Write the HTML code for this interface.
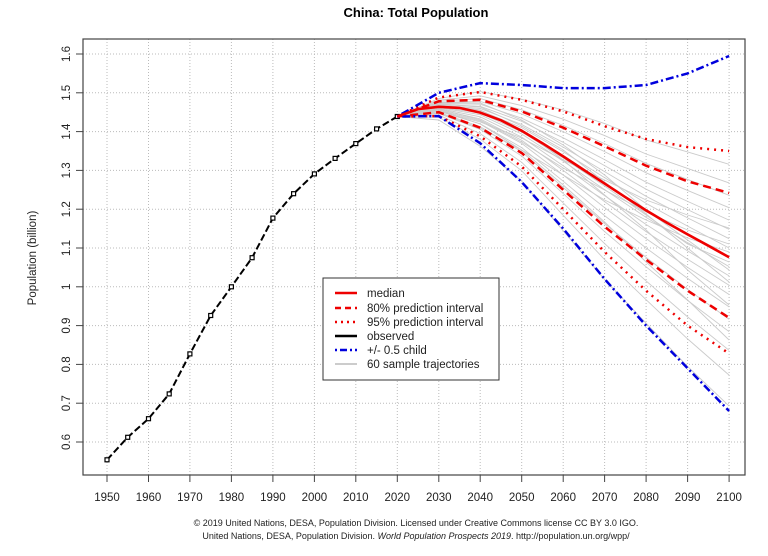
<!DOCTYPE html>
<html><head><meta charset="utf-8"><style>
body{margin:0;background:#fff;}
svg{display:block;font-family:"Liberation Sans",Arial,sans-serif;}
</style></head><body>
<svg width="768" height="556" xmlns="http://www.w3.org/2000/svg">
<text x="416" y="17" text-anchor="middle" font-size="13" font-weight="bold">China: Total Population</text>
<g stroke="#bbb" stroke-dasharray="1,2" stroke-width="1">
<line x1="107" y1="39" x2="107" y2="475"/><line x1="148.5" y1="39" x2="148.5" y2="475"/><line x1="189.9" y1="39" x2="189.9" y2="475"/><line x1="231.4" y1="39" x2="231.4" y2="475"/><line x1="272.9" y1="39" x2="272.9" y2="475"/><line x1="314.4" y1="39" x2="314.4" y2="475"/><line x1="355.8" y1="39" x2="355.8" y2="475"/><line x1="397.3" y1="39" x2="397.3" y2="475"/><line x1="438.8" y1="39" x2="438.8" y2="475"/><line x1="480.2" y1="39" x2="480.2" y2="475"/><line x1="521.7" y1="39" x2="521.7" y2="475"/><line x1="563.2" y1="39" x2="563.2" y2="475"/><line x1="604.6" y1="39" x2="604.6" y2="475"/><line x1="646.1" y1="39" x2="646.1" y2="475"/><line x1="687.6" y1="39" x2="687.6" y2="475"/><line x1="729.1" y1="39" x2="729.1" y2="475"/>
<line x1="83" y1="442" x2="745" y2="442"/><line x1="83" y1="403.2" x2="745" y2="403.2"/><line x1="83" y1="364.4" x2="745" y2="364.4"/><line x1="83" y1="325.6" x2="745" y2="325.6"/><line x1="83" y1="286.8" x2="745" y2="286.8"/><line x1="83" y1="248" x2="745" y2="248"/><line x1="83" y1="209.2" x2="745" y2="209.2"/><line x1="83" y1="170.4" x2="745" y2="170.4"/><line x1="83" y1="131.6" x2="745" y2="131.6"/><line x1="83" y1="92.8" x2="745" y2="92.8"/><line x1="83" y1="54" x2="745" y2="54"/>
</g>
<g fill="none" stroke="#cbcbcb" stroke-width="0.9">
<polyline points="397.3,116.5 438.8,98.5 480.2,91.6 521.7,99.3 563.2,109.9 604.6,123.6 646.1,139.9 687.6,151.9 729.1,164.3"/>
<polyline points="397.3,116.5 438.8,100.2 480.2,95.8 521.7,105.6 563.2,119.2 604.6,135.6 646.1,154 687.6,168.4 729.1,182.9"/>
<polyline points="397.3,116.5 438.8,101.3 480.2,98.6 521.7,109.8 563.2,125.4 604.6,143.6 646.1,163.4 687.6,179.4 729.1,195.3"/>
<polyline points="397.3,116.5 438.8,102.4 480.2,101.4 521.7,114 563.2,131.6 604.6,151.6 646.1,172.8 687.6,190.4 729.1,207.7"/>
<polyline points="397.3,116.5 438.8,103.5 480.2,104.2 521.7,118.2 563.2,137.8 604.6,159.6 646.1,182.2 687.6,201.4 729.1,220.1"/>
<polyline points="397.3,116.5 438.8,104.3 480.2,106.3 521.7,121.3 563.2,142.4 604.6,165.6 646.1,189.2 687.6,209.6 729.1,229.4"/>
<polyline points="397.3,116.5 438.8,105.1 480.2,108.4 521.7,124.5 563.2,147.1 604.6,171.6 646.1,196.3 687.6,217.9 729.1,238.7"/>
<polyline points="397.3,116.5 438.8,106 480.2,110.5 521.7,127.6 563.2,151.7 604.6,177.6 646.1,203.4 687.6,226.1 729.1,248"/>
<polyline points="397.3,116.5 438.8,107.6 480.2,114.7 521.7,134 563.2,161.1 604.6,189.6 646.1,217.4 687.6,242.7 729.1,266.6"/>
<polyline points="397.3,116.5 438.8,108.5 480.2,116.8 521.7,137.1 563.2,165.7 604.6,195.6 646.1,224.5 687.6,250.9 729.1,275.9"/>
<polyline points="397.3,116.5 438.8,109.3 480.2,118.9 521.7,140.3 563.2,170.4 604.6,201.6 646.1,231.6 687.6,259.2 729.1,285.2"/>
<polyline points="397.3,116.5 438.8,110.1 480.2,121 521.7,143.4 563.2,175 604.6,207.6 646.1,238.6 687.6,267.4 729.1,294.5"/>
<polyline points="397.3,116.5 438.8,111.2 480.2,123.8 521.7,147.6 563.2,181.2 604.6,215.6 646.1,248 687.6,278.4 729.1,306.9"/>
<polyline points="397.3,116.5 438.8,112.3 480.2,126.6 521.7,151.8 563.2,187.4 604.6,223.6 646.1,257.4 687.6,289.4 729.1,319.3"/>
<polyline points="397.3,116.5 438.8,113.4 480.2,129.4 521.7,156 563.2,193.6 604.6,231.6 646.1,266.8 687.6,300.4 729.1,331.7"/>
<polyline points="397.3,116.5 438.8,115.1 480.2,133.6 521.7,162.3 563.2,202.9 604.6,243.6 646.1,280.9 687.6,316.9 729.1,350.3"/>
<polyline points="397.3,116.5 438.8,117.3 480.2,139.2 521.7,170.7 563.2,215.3 604.6,259.6 646.1,299.7 687.6,338.9 729.1,375.1"/>
<polyline points="397.3,116.5 438.8,120 480.2,146.2 521.7,181.2 563.2,230.8 604.6,279.6 646.1,323.2 687.6,366.4 729.1,406.1"/>
<polyline points="397.3,116.5 438.8,102.4 480.2,103 521.7,120 563.2,145 604.6,175 646.1,210 687.6,240 729.1,270"/>
<polyline points="397.3,116.5 438.8,111.2 480.2,122 521.7,138 563.2,160 604.6,180 646.1,200 687.6,215 729.1,228"/>
<polyline points="397.3,116.5 438.8,105 480.2,110 521.7,130 563.2,160 604.6,195 646.1,230 687.6,270 729.1,305"/>
<polyline points="397.3,116.5 438.8,113 480.2,128 521.7,150 563.2,175 604.6,200 646.1,220 687.6,238 729.1,252"/>
<polyline points="397.3,116.5 438.8,104 480.2,107 521.7,126 563.2,150 604.6,182 646.1,214 687.6,248 729.1,282"/>
<polyline points="397.3,116.5 438.8,109 480.2,120 521.7,142 563.2,168 604.6,190 646.1,212 687.6,230 729.1,244"/>
<polyline points="397.3,116.5 438.8,110 480.2,124 521.7,150 563.2,185 604.6,222 646.1,262 687.6,300 729.1,340"/>
<polyline points="397.3,116.5 438.8,107 480.2,113 521.7,132 563.2,158 604.6,186 646.1,215 687.6,244 729.1,262"/>
</g>
<g fill="none">
<polyline points="107,459.8 127.7,437.3 148.5,418.7 169.2,393.9 189.9,353.9 210.7,315.5 231.4,286.8 252.1,257.7 272.9,218.1 293.6,193.7 314.4,173.9 335.1,158.4 355.8,143.6 376.6,128.9 397.3,116.5" stroke="#000" stroke-width="2" stroke-dasharray="7,3"/>
<g fill="#fff" stroke="#000" stroke-width="1.2">
<rect x="105" y="457.8" width="4" height="4"/><rect x="125.7" y="435.3" width="4" height="4"/><rect x="146.5" y="416.7" width="4" height="4"/><rect x="167.2" y="391.9" width="4" height="4"/><rect x="187.9" y="351.9" width="4" height="4"/><rect x="208.7" y="313.5" width="4" height="4"/><rect x="229.4" y="284.8" width="4" height="4"/><rect x="250.1" y="255.7" width="4" height="4"/><rect x="270.9" y="216.1" width="4" height="4"/><rect x="291.6" y="191.7" width="4" height="4"/><rect x="312.4" y="171.9" width="4" height="4"/><rect x="333.1" y="156.4" width="4" height="4"/><rect x="353.8" y="141.6" width="4" height="4"/><rect x="374.6" y="126.9" width="4" height="4"/><rect x="395.3" y="114.5" width="4" height="4"/>
</g>
<polyline points="397.3,116.5 438.8,101.3 480.2,99.8 521.7,111.4 563.2,127.7 604.6,146.3 646.1,165.7 687.6,181.3 729.1,192.9" stroke="#e00" stroke-width="2.5" stroke-dasharray="8,5"/>
<polyline points="397.3,116.5 438.8,112.2 480.2,127.7 521.7,153 563.2,189.8 604.6,226.7 646.1,259.6 687.6,290.7 729.1,317.8" stroke="#e00" stroke-width="2.5" stroke-dasharray="8,5"/>
<polyline points="397.3,116.5 438.8,97.5 480.2,92 521.7,99.8 563.2,111.4 604.6,126.2 646.1,139 687.6,147.1 729.1,151" stroke="#e00" stroke-width="2.5" stroke-dasharray="2,5"/>
<polyline points="397.3,116.5 438.8,116.1 480.2,136.3 521.7,166.5 563.2,209.2 604.6,251.9 646.1,290.7 687.6,325.6 729.1,353.5" stroke="#e00" stroke-width="2.5" stroke-dasharray="2,5"/>
<polyline points="397.3,116.5 438.8,92.8 480.2,83.1 521.7,85 563.2,88.1 604.6,88.1 646.1,85 687.6,73.4 729.1,56" stroke="#00d" stroke-width="2.5" stroke-dasharray="2,3,8,3"/>
<polyline points="397.3,116.5 438.8,116.1 480.2,143.2 521.7,182 563.2,228.6 604.6,279 646.1,325.6 687.6,368.3 729.1,411" stroke="#00d" stroke-width="2.5" stroke-dasharray="2,3,8,3"/>
<polyline points="397.3,116.5 418,109.1 438.8,106.8 459.5,107.9 480.2,112.6 501,120.3 521.7,130.8 542.4,143.2 563.2,156.4 583.9,170 604.6,183.6 625.4,197.2 646.1,210.4 666.9,222.8 687.6,234.4 708.3,245.7 729.1,257.3" stroke="#e00" stroke-width="2.6"/>
</g>
<rect x="83" y="39" width="662" height="436" fill="none" stroke="#444" stroke-width="1.2"/>
<g stroke="#444" stroke-width="1">
<line x1="107" y1="475" x2="107" y2="482"/><line x1="148.5" y1="475" x2="148.5" y2="482"/><line x1="189.9" y1="475" x2="189.9" y2="482"/><line x1="231.4" y1="475" x2="231.4" y2="482"/><line x1="272.9" y1="475" x2="272.9" y2="482"/><line x1="314.4" y1="475" x2="314.4" y2="482"/><line x1="355.8" y1="475" x2="355.8" y2="482"/><line x1="397.3" y1="475" x2="397.3" y2="482"/><line x1="438.8" y1="475" x2="438.8" y2="482"/><line x1="480.2" y1="475" x2="480.2" y2="482"/><line x1="521.7" y1="475" x2="521.7" y2="482"/><line x1="563.2" y1="475" x2="563.2" y2="482"/><line x1="604.6" y1="475" x2="604.6" y2="482"/><line x1="646.1" y1="475" x2="646.1" y2="482"/><line x1="687.6" y1="475" x2="687.6" y2="482"/><line x1="729.1" y1="475" x2="729.1" y2="482"/>
<line x1="76" y1="442" x2="83" y2="442"/><line x1="76" y1="403.2" x2="83" y2="403.2"/><line x1="76" y1="364.4" x2="83" y2="364.4"/><line x1="76" y1="325.6" x2="83" y2="325.6"/><line x1="76" y1="286.8" x2="83" y2="286.8"/><line x1="76" y1="248" x2="83" y2="248"/><line x1="76" y1="209.2" x2="83" y2="209.2"/><line x1="76" y1="170.4" x2="83" y2="170.4"/><line x1="76" y1="131.6" x2="83" y2="131.6"/><line x1="76" y1="92.8" x2="83" y2="92.8"/><line x1="76" y1="54" x2="83" y2="54"/>
</g>
<g font-size="11.5" fill="#222" text-anchor="middle">
<text x="107" y="501">1950</text><text x="148.5" y="501">1960</text><text x="189.9" y="501">1970</text><text x="231.4" y="501">1980</text><text x="272.9" y="501">1990</text><text x="314.4" y="501">2000</text><text x="355.8" y="501">2010</text><text x="397.3" y="501">2020</text><text x="438.8" y="501">2030</text><text x="480.2" y="501">2040</text><text x="521.7" y="501">2050</text><text x="563.2" y="501">2060</text><text x="604.6" y="501">2070</text><text x="646.1" y="501">2080</text><text x="687.6" y="501">2090</text><text x="729.1" y="501">2100</text>
<text transform="translate(70,442) rotate(-90)">0.6</text><text transform="translate(70,403.2) rotate(-90)">0.7</text><text transform="translate(70,364.4) rotate(-90)">0.8</text><text transform="translate(70,325.6) rotate(-90)">0.9</text><text transform="translate(70,286.8) rotate(-90)">1</text><text transform="translate(70,248) rotate(-90)">1.1</text><text transform="translate(70,209.2) rotate(-90)">1.2</text><text transform="translate(70,170.4) rotate(-90)">1.3</text><text transform="translate(70,131.6) rotate(-90)">1.4</text><text transform="translate(70,92.8) rotate(-90)">1.5</text><text transform="translate(70,54) rotate(-90)">1.6</text>
</g>
<text transform="translate(36,258) rotate(-90)" text-anchor="middle" font-size="11.5" fill="#222">Population (billion)</text>
<text x="416" y="526" text-anchor="middle" font-size="9" fill="#222">© 2019 United Nations, DESA, Population Division. Licensed under Creative Commons license CC BY 3.0 IGO.</text>
<text x="416" y="539" text-anchor="middle" font-size="9" fill="#222">United Nations, DESA, Population Division. <tspan font-style="italic">World Population Prospects 2019</tspan>. http://population.un.org/wpp/</text>
<g>
<rect x="323" y="278" width="176" height="102" fill="#fff" stroke="#333" stroke-width="1"/>
<line x1="335" y1="293" x2="357" y2="293" stroke="#e00" stroke-width="2.5"/>
<line x1="335" y1="308" x2="357" y2="308" stroke="#e00" stroke-width="2.5" stroke-dasharray="6,4"/>
<line x1="335" y1="322" x2="357" y2="322" stroke="#e00" stroke-width="2.5" stroke-dasharray="2,4"/>
<line x1="335" y1="336" x2="357" y2="336" stroke="#000" stroke-width="2.5"/>
<line x1="335" y1="350" x2="357" y2="350" stroke="#00d" stroke-width="2.5" stroke-dasharray="2,3,7,3"/>
<line x1="335" y1="364" x2="357" y2="364" stroke="#bbb" stroke-width="1.5"/>
<g font-size="11.5" fill="#222">
<text x="367" y="297">median</text>
<text x="367" y="312">80% prediction interval</text>
<text x="367" y="326">95% prediction interval</text>
<text x="367" y="340">observed</text>
<text x="367" y="354">+/- 0.5 child</text>
<text x="367" y="368">60 sample trajectories</text>
</g></g>
</svg>
</body></html>
